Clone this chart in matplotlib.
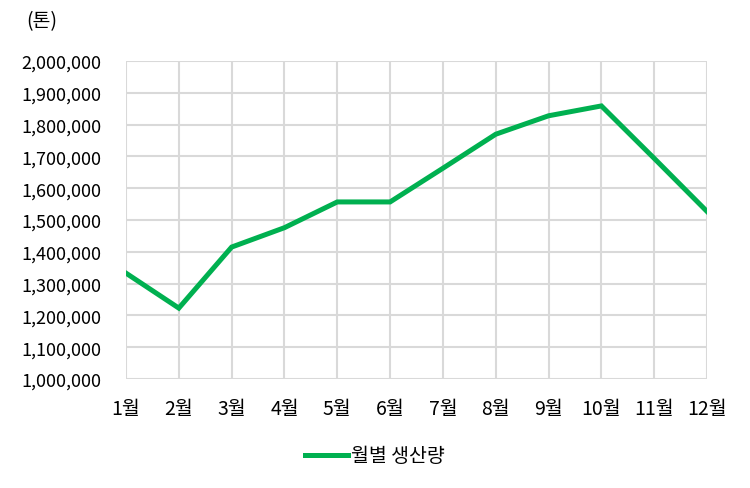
import matplotlib
matplotlib.use("Agg")
import matplotlib.pyplot as plt
from matplotlib.ticker import FuncFormatter, MultipleLocator

plt.rcParams['font.family'] = ['Noto Sans CJK KR', 'DejaVu Sans']

months = ['1월', '2월', '3월', '4월', '5월', '6월', '7월', '8월', '9월', '10월', '11월', '12월']
production = [1333000, 1223000, 1415000, 1476000, 1557000, 1557000,
              1663000, 1770000, 1828000, 1859000, 1694000, 1527000]
series_name = '월별 생산량'
unit_label = '(톤)'

fig = plt.figure(figsize=(7.5, 4.89), dpi=100)
ax = fig.add_axes([0.168, 0.2229, 0.9427 - 0.168, 0.873 - 0.2229])

x = list(range(len(months)))
ax.plot(x, production, color='#00B050', lw=3.6, solid_joinstyle='miter',
        label=series_name, zorder=3)

ax.set_xlim(0, len(months) - 1)
ax.set_ylim(1000000, 2000000)
ax.yaxis.set_major_locator(MultipleLocator(100000))
ax.yaxis.set_major_formatter(FuncFormatter(lambda v, p: f'{int(v):,}'))
ax.set_xticks(x)
ax.set_xticklabels(months)

ax.grid(True, color='#D9D9D9', lw=1.5, zorder=0)
for s in ax.spines.values():
    s.set_visible(False)
ax.tick_params(axis='both', length=0, colors='black')
ax.tick_params(axis='x', pad=14, labelsize=14)
ax.tick_params(axis='y', pad=18, labelsize=13)

fig.text(26 / 750, 1 - 22 / 489, unit_label, fontsize=14, va='center', ha='left')

leg = fig.legend(loc='center', bbox_to_anchor=(0.5, 1 - 457 / 489), frameon=False,
                 fontsize=14, handlelength=2.2, handletextpad=0.15)

fig.savefig('out.png', dpi=100)
